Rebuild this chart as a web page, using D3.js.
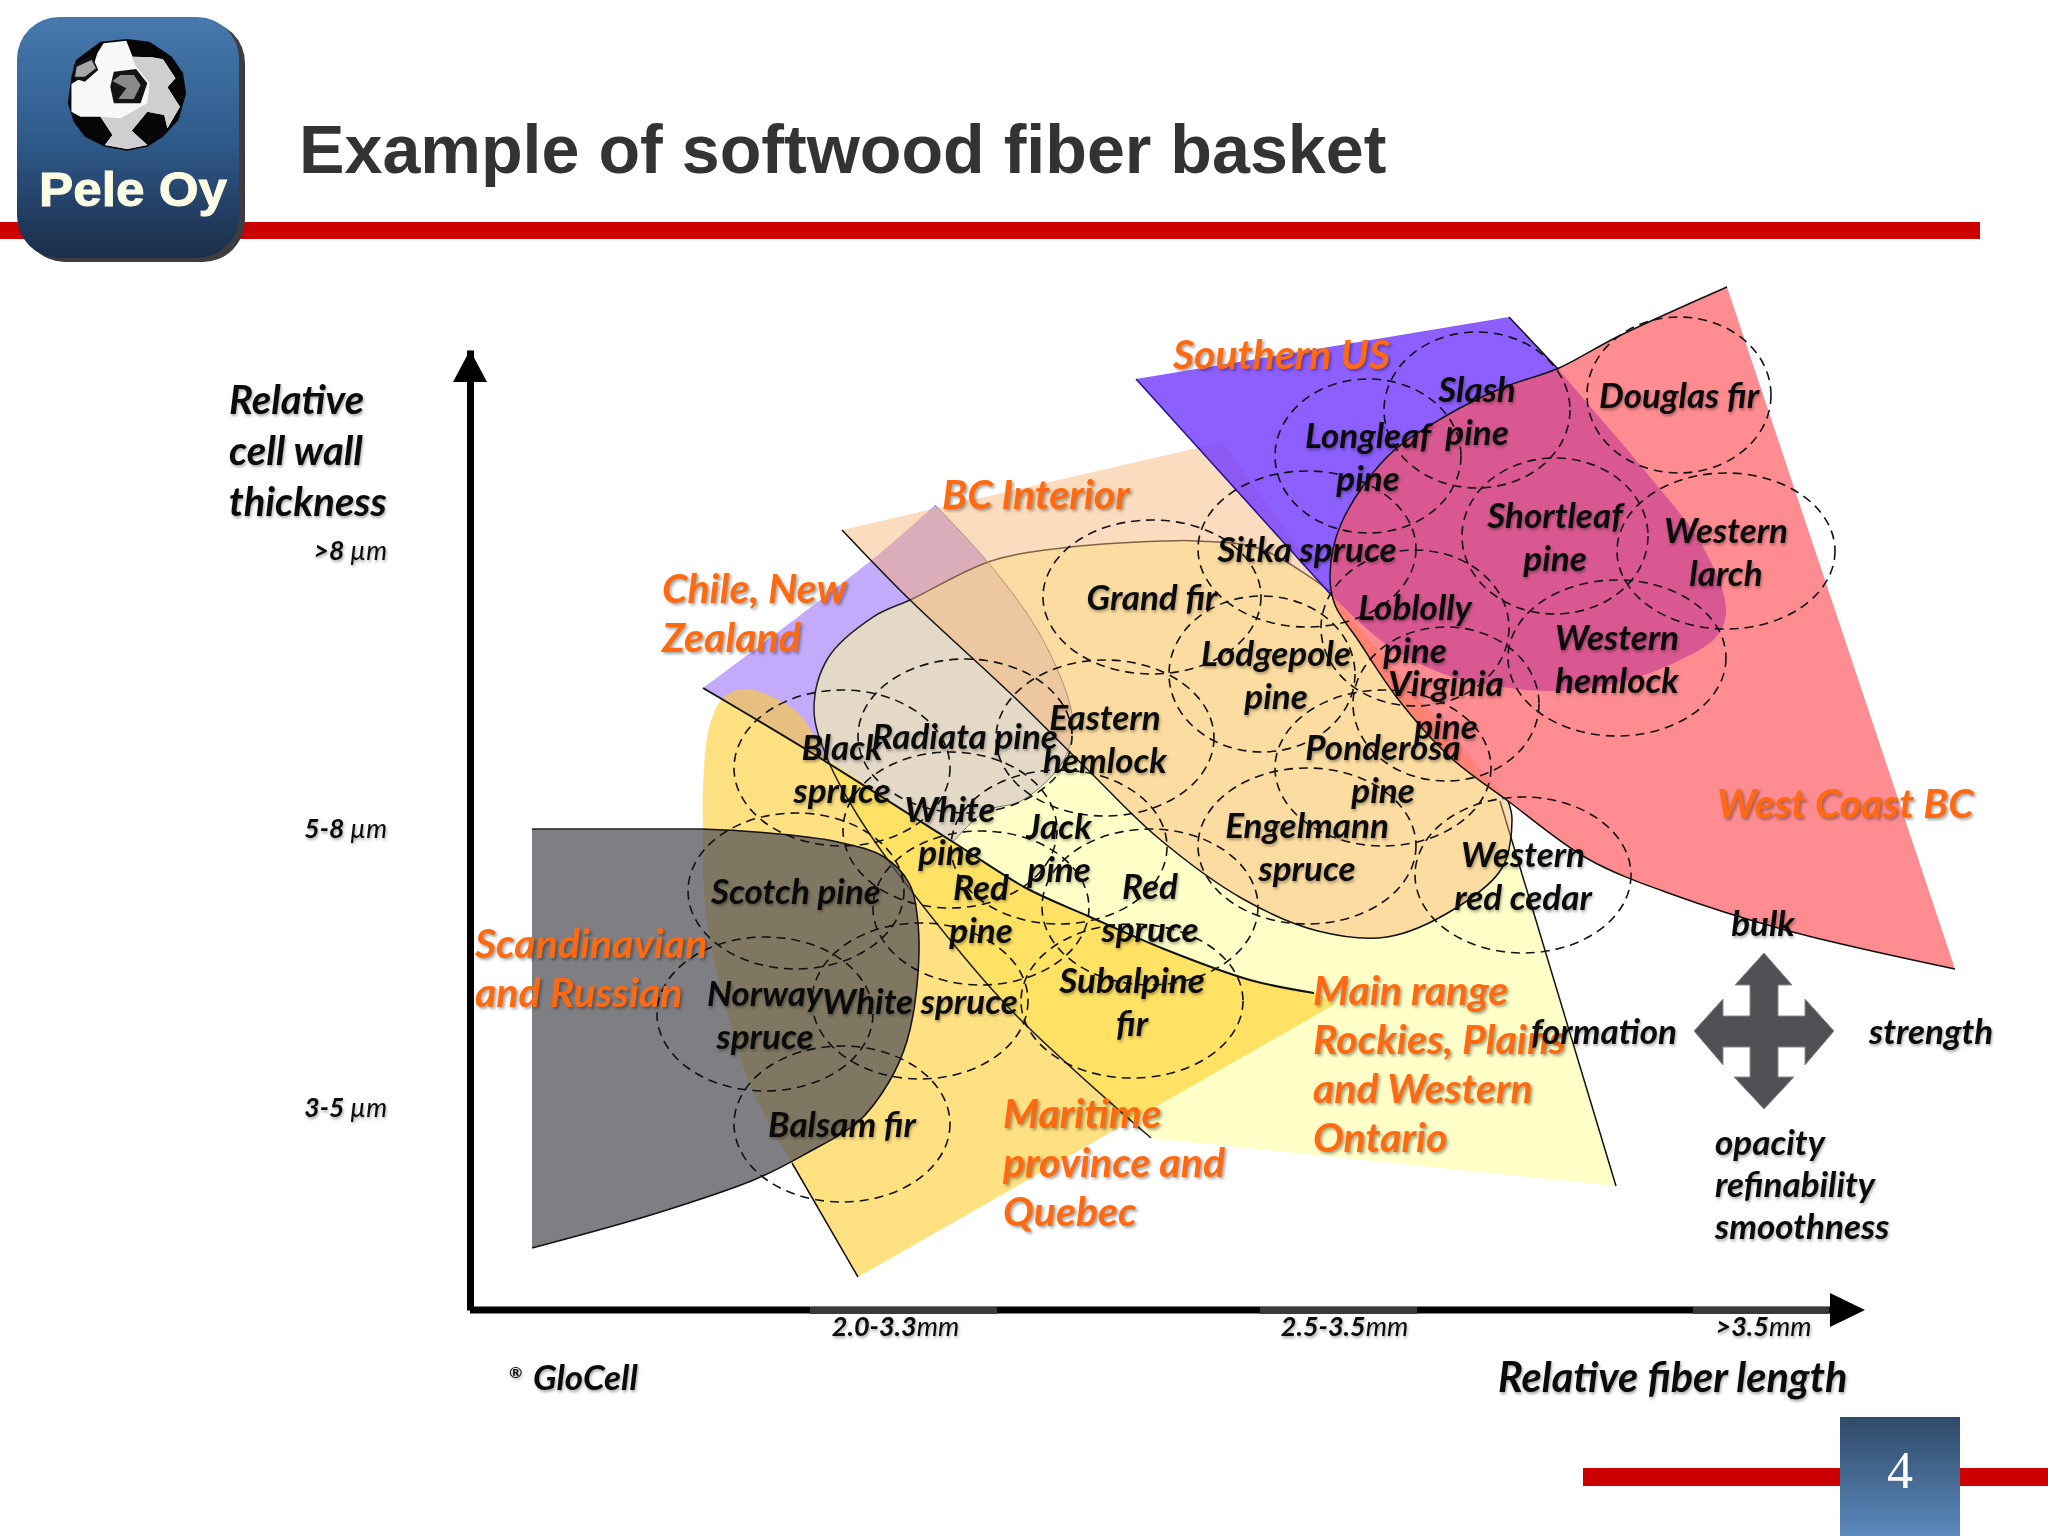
<!DOCTYPE html>
<html>
<head>
<meta charset="utf-8">
<title>Example of softwood fiber basket</title>
<script src="https://cdn.jsdelivr.net/npm/d3@7"></script>
<style>
  html, body { margin: 0; padding: 0; background: #fff; }
  svg { display: block; }
  .dark { font-family: Lato, sans-serif; font-style: italic; font-weight: 700; fill: #0b0b0b; filter: drop-shadow(1px 2px 1.5px rgba(0,0,0,.35)); }
  .region { font-family: Lato, sans-serif; font-style: italic; font-weight: 700; fill: #ff6a10; filter: drop-shadow(2px 2px 1.5px rgba(0,0,0,.35)); }
</style>
</head>
<body>
<svg width="2048" height="1536"></svg>
<script>
const speciesLabels = [['Douglas fir'], ['Slash', 'pine'], ['Longleaf', 'pine'], ['Shortleaf', 'pine'], ['Western', 'larch'],
  ['Western', 'hemlock'], ['Sitka spruce'], ['Loblolly', 'pine'], ['Virginia', 'pine'], ['Lodgepole', 'pine'],
  ['Ponderosa', 'pine'], ['Engelmann', 'spruce'], ['Western', 'red cedar'], ['Grand fir'], ['Eastern', 'hemlock'],
  ['Radiata pine'], ['Black', 'spruce'], ['White', 'pine'], ['Jack', 'pine'], ['Scotch pine'], ['Red', 'pine'],
  ['Red', 'spruce'], ['Norway', 'spruce'], ['White spruce'], ['Subalpine', 'fir'], ['Balsam fir']];
const speciesLength = [120.9, 100.7, 89.8, 108.5, 125.6, 114.7, 83.7, 94.5, 97.6, 79.2, 91.3, 83.7, 105.3, 68.2, 63.5, 49.5, 37.2, 48, 58.9, 32.6, 51.1, 68, 29.5, 45, 66.2, 37.2];
const speciesWall = [91.5, 90, 85.4, 77.4, 75.9, 65.2, 76.1, 68.2, 60.6, 63.6, 54.2, 46.4, 43.5, 71.3, 57.2, 57.4, 54.2, 48, 46.3, 41.9, 40.2, 40.3, 29.6, 30.9, 30.9, 18.6];
const speciesLengthSpread = [9.2, 9.3, 9.3, 9.3, 10.9, 10.9, 10.9, 9.4, 9.3, 9.3, 10.8, 10.9, 10.8, 10.9, 10.9, 10.7, 10.8, 10.7, 10.8, 10.8, 10.8, 10.8, 10.8, 10.8, 11.1, 10.8];
const speciesWallSpread = [7.8, 7.8, 7.7, 7.8, 7.8, 7.8, 7.8, 7.8, 7.7, 7.8, 7.8, 7.8, 7.8, 7.7, 7.8, 7.7, 7.8, 7.8, 7.7, 7.8, 7.7, 7.8, 7.7, 7.8, 7.7, 7.8];
// Lodgepole's label sits off the centre of its circle
const speciesLabelShift = [0, 0, 0, 0, 0, 0, 0, 0, 0, 1.4, 0, 0, 0, 0, 0, 0, 0, 0, 0, 0, 0, 0, 0, 0, 0, 0];

const xTickValues = [42.5, 87.4, 129.3];
const xTickNumbers = ['2.0-3.3', '2.5-3.5', '>3.5'];
const xBands = [[34, 52.7], [79, 94.7], [122.3, 135.9]];
const yTickValues = [76, 48.2, 20.3];
const yTickNumbers = ['>8', '5-8', '3-5'];

const regionNames = [['Southern US'], ['BC Interior'], ['Chile, New', 'Zealand'], ['West Coast BC'], ['Scandinavian', 'and Russian'],
  ['Main range', 'Rockies, Plains', 'and Western', 'Ontario'], ['Maritime', 'province and', 'Quebec']];
const regionX = [70.3, 47.2, 19.2, 124.7, 0.5, 84.3, 53.3];
const regionY = [95.5, 81.5, 72.1, 50.6, 36.6, 31.9, 19.6];

// region outlines, split at the sharp corners
const scandTop = [[6.2, 48.1], [23.2, 48.1]];
const scandCurve = [[23.2, 48.1], [28.6, 47.8], [36.8, 46.8], [41.4, 45.3], [43.9, 42.7], [44.8, 38.7], [44.7, 32.5], [43.7, 26.9], [41.9, 22.8], [38.8, 18.8], [33.7, 15.7], [28.6, 13.1], [18.4, 9.6], [6.2, 6.2]];

const maritimeLeft = [[38.8, 3.3], [32.2, 14.7]];
const maritimeCurve = [[32.2, 14.7], [28.1, 22.3], [25, 32.5], [23.5, 40.2], [23.3, 48.3], [23.3, 52.4], [24, 58.6], [25.5, 61.4], [27.6, 62.1], [30.7, 61.1], [33.2, 59.3], [35.5, 55.2]];
const maritimeTop = [[35.5, 55.2], [48.3, 46.8], [55.6, 42.2], [61.8, 39.4], [69.4, 36.1], [78, 33], [84.4, 31.7], [86.5, 30.6]];
const maritimeBottom = [[86.5, 30.6], [38.8, 3.3]];

const chileUpper = [[23.3, 62.2], [40.3, 75.1], [46.5, 80.5]];
const chileCurve = [[46.5, 80.5], [52.1, 74.4], [57.2, 67.2], [60.2, 59.6], [60, 56.5], [58.7, 54], [55.1, 50.9], [51.6, 49.9], [48.3, 46.8]];
const chileLower = [[48.3, 46.8], [33.7, 56], [23.3, 62.2]];
const longLine = [[23.3, 62.2], [33.7, 56], [48.3, 46.8], [55.6, 42.2], [61.8, 39.4], [69.4, 36.1], [78, 33], [84.4, 31.7]];

const mainHidden = [[86, 71.9], [103, 50.9]];
const mainRight = [[103, 50.9], [114.6, 12.4]];
const mainBottom = [[114.6, 12.4], [68.1, 17.2]];
const mainCurve = [[68.1, 17.2], [54.1, 30], [43.9, 42.2], [38.8, 49.4], [35.8, 55], [34.4, 60], [35.8, 65.2], [40.3, 69.3], [44.2, 71.1], [52.1, 74.9], [59.2, 76.2], [69.4, 76.9], [72.8, 76.9], [79.1, 76.1], [86, 71.9]];

const bcTop = [[37.2, 78], [75.3, 86.8]];
const bcRight = [[75.3, 86.8], [86.2, 71.4]];
const bcHidden = [[86.2, 71.4], [103.8, 50.9]];
const bcRound = [[103.8, 50.9], [104.2, 49.1], [103.2, 44.2], [98.6, 40.2], [91.7, 37.3], [84.8, 37.9], [77.3, 41.1], [68.7, 47.3], [61.8, 54], [54.1, 61.6], [43.9, 71.1], [37.2, 78]];

const southTop = [[66.6, 93.1], [103.9, 99.3]];
const southRight = [[103.9, 99.3], [108.9, 94]];
const southCurve = [[108.9, 94], [111.8, 90.6], [117.5, 83.9], [123.3, 76.3], [125.6, 70.1], [124.7, 67.4], [120.4, 64.7], [114.7, 62.7], [108.9, 61.9], [103.2, 62.3], [97.4, 63.6], [91.7, 66.5], [86.2, 71.4]];
const southLeft = [[86.2, 71.4], [66.6, 93.1]];

const westRight = [[125.7, 102.3], [148.5, 34.1]];
const westCurve = [[148.5, 34.1], [131.9, 37.9], [120.4, 41.5], [111.8, 45.1], [103.8, 50.9], [98, 55.3], [92.8, 61.1], [88.8, 67], [86.5, 70.5], [86, 73.6], [87.1, 78.6], [91.7, 85.3], [97.4, 89.3], [103.2, 92.2], [108.9, 94.2], [114.7, 97.3], [125.7, 102.3]];

// drawing of the logo ball, in crop pixels
const ballBlack = [[225,125],[285,117],[335,125],[385,170],[410,220],[417,280],[400,360],[365,410],[330,440],[285,452],[235,440],[190,410],[165,365],[152,310],[160,230],[170,180]];
const ballWhite = [[232,130],[283,122],[297,170],[340,172],[365,178],[393,235],[375,262],[403,320],[375,385],[368,345],[330,335],[295,392],[330,435],[285,447],[235,435],[252,405],[225,350],[180,350],[160,335],[160,252],[205,215],[218,160]];
const ballHex = [[255,215],[305,207],[330,250],[315,310],[255,310],[247,260]];
const ballHexGrey = [[270,225],[300,225],[315,255],[300,297],[265,297],[283,265],[252,243]];
const ballSide = [[205,165],[220,210],[190,245],[165,235],[165,195]];
const ballSideGrey = [[205,180],[215,205],[190,230],[168,230],[172,200]];
const ballShade = [[295,170],[340,172],[365,178],[393,235],[375,262],[403,320],[375,385],[368,345],[330,335],[295,392],[330,435],[285,447],[235,435],[252,405],[225,350],[270,355],[330,310],[335,250],[305,200]];

const crossPoints = [[1764,953],[1792,985],[1778,985],[1778,1016],[1805,1016],[1805,999],[1834,1031],[1805,1065],[1805,1047],[1778,1047],[1778,1077],[1794,1077],[1764,1109],[1734,1077],[1750,1077],[1750,1047],[1723,1047],[1723,1065],[1694,1031],[1723,999],[1723,1016],[1750,1016],[1750,985],[1735,985]];

let svg = d3.select('svg');
let x = d3.scaleLinear().domain([0, 139.5]).range([470, 1865]);
let y = d3.scaleLinear().domain([0, 96]).range([1310, 350]);

let defs = svg.append('defs');
function gradient(id, stops) {
  let g = defs.append('linearGradient').attr('id', id).attr('x1', 0).attr('y1', 0).attr('x2', 0).attr('y2', 1);
  stops.forEach(function(s) {
    g.append('stop').attr('offset', s[0]).attr('stop-color', s[1]);
  });
}
gradient('logoBlue', [[0, '#4779ad'], [0.5, '#2f5b8c'], [1, '#1b2d49']]);
gradient('pageBlue', [[0, '#2f4a68'], [1, '#5c89bd']]);

// header
svg.append('rect').attr('x', 0).attr('y', 222).attr('width', 1980).attr('height', 17).attr('fill', '#cc0000');
svg.append('rect').attr('x', 23).attr('y', 21).attr('width', 222).attr('height', 241).attr('rx', 42).attr('fill', '#3d3d3f');
svg.append('rect').attr('x', 17).attr('y', 17).attr('width', 222).attr('height', 241).attr('rx', 42).attr('fill', 'url(#logoBlue)');

let ball = svg.append('g').attr('transform', 'scale(0.4464,0.3333)');
function ballPiece(points, color) {
  ball.append('polygon').attr('points', points.join(' ')).attr('fill', color);
}
ballPiece(ballBlack, '#060606');
ballPiece(ballWhite, '#f8f8f8');
ballPiece(ballShade, '#cfcfd2');
ballPiece(ballHex, '#141414');
ballPiece(ballHexGrey, '#8a8a8c');
ballPiece(ballSide, '#141414');
ballPiece(ballSideGrey, '#a8a8aa');

svg.append('text').attr('x', 39).attr('y', 206).attr('textLength', 188).attr('lengthAdjust', 'spacingAndGlyphs')
  .attr('font-family', 'Liberation Sans').attr('font-weight', 700).attr('font-size', 49)
  .attr('fill', '#fdfde6').attr('stroke', '#fdfde6').attr('stroke-width', 1).text('Pele Oy');
svg.append('text').attr('x', 299).attr('y', 173)
  .attr('font-family', 'Liberation Sans').attr('font-weight', 700).attr('font-size', 68.2)
  .attr('fill', '#333336').text('Example of softwood fiber basket');

// footer
svg.append('rect').attr('x', 1583).attr('y', 1468).attr('width', 465).attr('height', 18).attr('fill', '#cc0000');
svg.append('rect').attr('x', 1840).attr('y', 1417).attr('width', 120).attr('height', 119).attr('fill', 'url(#pageBlue)');
svg.append('text').attr('x', 1900).attr('y', 1488).attr('text-anchor', 'middle')
  .attr('font-family', 'Liberation Serif').attr('font-size', 52).attr('fill', '#fff').text('4');

// regions
let lineLinear = d3.line().x(d => x(d[0])).y(d => y(d[1]));
let lineCurved = d3.line().x(d => x(d[0])).y(d => y(d[1])).curve(d3.curveCatmullRom);

function outline(edges) {
  let d = '';
  edges.forEach(function(e, i) {
    let piece = (e.length > 2 ? lineCurved : lineLinear)(e);
    d += i == 0 ? piece : 'L' + piece.slice(1);
  });
  return d + 'Z';
}

let maritimeEdges = [maritimeLeft, maritimeCurve, maritimeTop, maritimeBottom];
let mainEdges = [mainCurve, mainHidden, mainRight, mainBottom];

defs.append('clipPath').attr('id', 'mainClip').append('path').attr('d', outline(mainEdges));

let regions = svg.append('g');
function fillRegion(edges, color, opacity) {
  return regions.append('path').attr('d', outline(edges)).attr('fill', color).attr('fill-opacity', opacity);
}
function strokeEdge(edge, color, width) {
  regions.append('path').attr('d', (edge.length > 2 ? lineCurved : lineLinear)(edge))
    .attr('fill', 'none').attr('stroke', color).attr('stroke-width', width);
}

fillRegion([chileUpper, chileCurve, chileLower], 'rgb(195,170,250)', 1);
fillRegion(maritimeEdges, 'rgb(255,205,47)', 0.6);
fillRegion(mainEdges, 'rgb(255,255,155)', 0.55);
fillRegion(maritimeEdges, 'rgb(255,226,100)', 1).attr('clip-path', 'url(#mainClip)');
strokeEdge(maritimeLeft, '#111', 1.5);
strokeEdge(mainRight, '#111', 1.5);
strokeEdge(mainCurve, '#222', 1.5);
strokeEdge(chileCurve, '#777', 1);
strokeEdge(longLine, '#111', 2);
fillRegion([bcTop, bcRight, bcHidden, bcRound], 'rgb(249,178,111)', 0.45);
strokeEdge(bcRound, '#111', 1.5);
fillRegion([southTop, southRight, southCurve, southLeft], 'rgb(116,60,255)', 0.82);
strokeEdge(southRight, '#111', 1.5);
strokeEdge(southLeft, '#22108a', 1.5);
fillRegion([westRight, westCurve], 'rgb(255,85,93)', 0.68);
strokeEdge(westCurve, '#111', 1.5);
fillRegion([scandTop, scandCurve], 'rgb(80,80,85)', 0.73);
strokeEdge(scandTop, '#222', 1.5);
strokeEdge(scandCurve, '#111', 1.5);

// axes
let xAxis = svg.append('g').attr('transform', 'translate(0,' + y(0) + ')')
  .call(d3.axisBottom(x).tickValues(xTickValues).tickSize(0).tickPadding(9).tickFormat(''));
xAxis.select('.domain').attr('d', 'M' + x(0) + ',0H' + (x.range()[1] - 30)).attr('stroke', '#000').attr('stroke-width', 7);
xAxis.selectAll('.bandRect').data(xBands).enter().append('rect')
  .attr('x', d => x(d[0])).attr('width', d => x(d[1]) - x(d[0])).attr('y', -3).attr('height', 7).attr('fill', '#3a3a3c');
xAxis.selectAll('.tick text').each(function(d, i) {
  let t = d3.select(this).attr('class', 'dark').attr('font-size', 27).attr('dy', 17);
  t.append('tspan').text(xTickNumbers[i]);
  t.append('tspan').attr('font-weight', 400).text('mm');
});

let yAxis = svg.append('g').attr('transform', 'translate(' + x(0) + ',0)')
  .call(d3.axisLeft(y).tickValues(yTickValues).tickSize(0).tickPadding(83).tickFormat(''));
yAxis.select('.domain').attr('stroke', '#000').attr('stroke-width', 7);
yAxis.selectAll('.tick text').each(function(d, i) {
  let t = d3.select(this).attr('class', 'dark').attr('font-size', 26.5).attr('dy', 9);
  t.append('tspan').text(yTickNumbers[i] + ' ');
  t.append('tspan').attr('font-weight', 400).text('µm');
});

let xEnd = x.range()[1];
let yEnd = y.range()[1];
svg.append('polygon').attr('points', [[xEnd, y(0)], [xEnd - 35, y(0) - 17], [xEnd - 35, y(0) + 17]].join(' ')).attr('fill', '#000');
svg.append('polygon').attr('points', [[x(0), yEnd], [x(0) - 17, yEnd + 32], [x(0) + 17, yEnd + 32]].join(' ')).attr('fill', '#000');

// species
let species = svg.append('g').selectAll('g').data(speciesLabels).enter().append('g');
species.append('ellipse')
  .attr('cx', (d, i) => x(speciesLength[i]))
  .attr('cy', (d, i) => y(speciesWall[i]))
  .attr('rx', (d, i) => x(speciesLengthSpread[i]) - x(0))
  .attr('ry', (d, i) => y(0) - y(speciesWallSpread[i]))
  .attr('fill', 'none').attr('stroke', '#111').attr('stroke-width', 1.6).attr('stroke-dasharray', '9,6');

let speciesText = svg.append('g').attr('class', 'dark').attr('font-size', 35).attr('text-anchor', 'middle');
speciesLabels.forEach(function(lines, i) {
  lines.forEach(function(line, j) {
    speciesText.append('text')
      .attr('x', x(speciesLength[i] + speciesLabelShift[i]))
      .attr('y', y(speciesWall[i]) + 13 + (j - (lines.length - 1) / 2) * 43)
      .text(line);
  });
});

let regionText = svg.append('g').attr('class', 'region').attr('font-size', 41);
regionNames.forEach(function(lines, i) {
  lines.forEach(function(line, j) {
    regionText.append('text')
      .attr('x', x(regionX[i]))
      .attr('y', y(regionY[i]) + 14 + j * 49)
      .text(line);
  });
});

// side notes
function note(parent, lines, px, py, step, anchor) {
  lines.forEach(function(line, i) {
    parent.append('text').attr('x', px).attr('y', py + i * step).attr('text-anchor', anchor).text(line);
  });
}
let notes = svg.append('g').attr('class', 'dark');
note(notes.append('g').attr('font-size', 40), ['Relative', 'cell wall', 'thickness'], 229, 414, 51, 'start');
note(notes.append('g').attr('font-size', 41.5), ['Relative fiber length'], 1498, 1392, 0, 'start');
note(notes.append('g').attr('font-size', 35), ['GloCell'], 533, 1390, 0, 'start');
note(notes.append('g').attr('font-size', 16), ['®'], 509, 1378, 0, 'start');
note(notes.append('g').attr('font-size', 35), ['bulk'], 1763, 936, 0, 'middle');
note(notes.append('g').attr('font-size', 35), ['formation'], 1677, 1044, 0, 'end');
note(notes.append('g').attr('font-size', 35), ['strength'], 1869, 1044, 0, 'start');
note(notes.append('g').attr('font-size', 35), ['opacity', 'refinability', 'smoothness'], 1715, 1155, 42, 'start');

svg.append('polygon').attr('points', crossPoints.join(' '))
  .attr('fill', '#505055').attr('stroke', '#8a8a8c').attr('stroke-width', 1);
</script>
</body>
</html>
